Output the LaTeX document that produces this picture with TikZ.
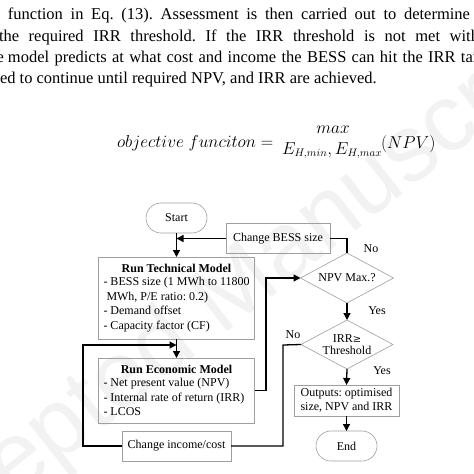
\documentclass[tikz,border=0pt]{standalone}
\usepackage{fontspec}
\setmainfont{Liberation Serif}
\setsansfont{Liberation Sans}
\usetikzlibrary{shapes.geometric,arrows.meta}
\frenchspacing
\begin{document}
\begin{tikzpicture}[x=1pt,y=-1pt,
  every node/.style={inner sep=0pt, outer sep=0pt},
  para/.style={anchor=base west, font=\fontsize{16.5}{20}\selectfont},
  eq/.style={anchor=base west, font=\fontsize{17.4}{20}\selectfont},
  box/.style={draw=gray!75, line width=0.6pt, font=\fontsize{12}{14.5}\selectfont, align=center},
  term/.style={box, rounded corners=15pt, minimum width=61pt, minimum height=30pt},
  dia/.style={box, diamond, aspect=1.86},
  lbl/.style={font=\fontsize{12}{14}\selectfont},
  arr/.style={line width=1.3pt, -{Triangle[length=7pt,width=7pt]}},
  ln/.style={line width=1.3pt}]
\useasboundingbox (0,0) rectangle (474,474);
\fill[white] (0,0) rectangle (474,474);
% watermark
\node[anchor=base, rotate=38, text=gray!10, font=\sffamily\fontsize{95}{95}\selectfont] (wm) at (238,323) {Accepted Manuscript};
% paragraph
\node[para] (p1) at (8,19.5) {\makebox[462pt][s]{function in Eq. (13). Assessment is then carried out to determine}};
\node[para] (p2) at (-1,41) {\makebox[480pt][s]{the required IRR threshold. If the IRR threshold is not met with}};
\node[para] (p3a) at (4,62) [anchor=base east] {the};
\node[para] (p3) at (8,62) {\spaceskip=5.3pt plus 1pt\relax model predicts at what cost and income the BESS can hit the IRR target};
\node[para] (p4) at (0,83.5) {ed to continue until required NPV, and IRR are achieved.};
% equation
\node[eq] (eqa) at (117,147) {$objective\;funciton =$};
\node[eq, anchor=base] (eqm) at (333,133) {$max$};
\node[eq, font=\fontsize{16}{18}\selectfont] (eqs) at (282,154) {$E_{H,min},E_{H,max}$};
\node[eq] (eqn) at (381,148) {$(NPV)$};
% flowchart
\node[term] (start) at (176.5,218) {Start};
\node[box, minimum width=104pt, minimum height=30pt] (cbess) at (278,238.5) {Change BESS size};
\node[dia, minimum width=93pt, minimum height=50pt] (npv) at (347,278) {NPV Max.?};
\node[box, minimum width=156pt, minimum height=82pt] (tech) at (176.5,298) {\makebox[146pt]{\textbf{Run Technical Model}}\\[-1pt]
  \makebox[146pt][l]{- BESS size (1 MWh to 11800}\\
  \makebox[146pt][l]{\ MWh, P/E ratio: 0.2)}\\
  \makebox[146pt][l]{- Demand offset}\\
  \makebox[146pt][l]{- Capacity factor (CF)}};
\node[box, minimum width=156pt, minimum height=65pt] (econ) at (176.5,390.5) {\makebox[146pt]{\textbf{Run Economic Model}}\\[-1pt]
  \makebox[146pt][l]{- Net present value (NPV)}\\
  \makebox[146pt][l]{- Internal rate of return (IRR)}\\
  \makebox[146pt][l]{- LCOS}};
\node[box, minimum width=109pt, minimum height=30pt] (cinc) at (176.5,446) {Change income/cost};
\node[dia, minimum width=92pt, minimum height=49pt] (irr) at (347,344.5) {IRR{\fontspec{DejaVu Serif}\fontsize{10}{12}\selectfont ≥}\\[-2pt]Threshold};
\node[box, minimum width=105pt, minimum height=31pt] (out) at (346.5,400.5) {Outputs: optimised\\size, NPV and IRR};
\node[term] (end) at (346.5,446) {End};
% labels
\node[lbl] (no1) at (371,249) {No};
\node[lbl] (yes1) at (377,311) {Yes};
\node[lbl] (no2) at (293,335) {No};
\node[lbl] (yes2) at (382,371) {Yes};
% connectors
\coordinate (j1) at (start.south |- cbess.west);
\coordinate (j2) at (176.5,345);
\coordinate (c1) at (83,345);
\coordinate (c2) at (266,278);
\coordinate (c3) at (283,345);
\draw[arr] (start.south) -- (tech.north);
\draw[arr] (cbess.west) -- (j1);
\draw[ln] (cbess.east) -| (npv.north);
\draw[arr] (tech.south) -- (econ.north);
\draw[arr] (econ.east) -| (c2) -- (npv.west);
\draw[arr] (npv.south) -- (irr.north);
\draw[arr] (cinc.west) -| (c1) -- (j2);
\draw[ln] (cinc.east) -| (c3) -- (irr.west);
\draw[arr] (irr.south) -- (out.north);
\draw[arr] (out.south) -- (end.north);
\end{tikzpicture}
\end{document}
